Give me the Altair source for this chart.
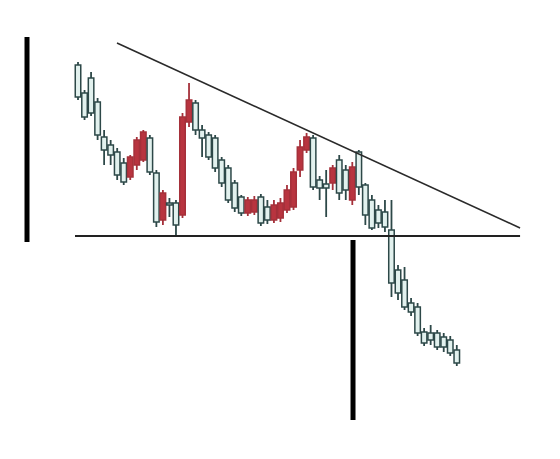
import altair as alt
import pandas as pd

# candle data (price units), in time order
direction = ["down"] * 8 + ["up"] * 3 + ["down"] * 2 + ["up"] + ["down"] * 2 + ["up"] * 2 + \
    ["down"] * 8 + ["up"] * 2 + ["down"] * 2 + ["up"] * 6 + ["down"] * 3 + ["up"] + ["down"] * 2 + \
    ["up"] + ["down"] * 16
open_ = [395, 367, 382, 358, 323, 315, 308, 297, 283, 295, 300, 322, 287, 240, 257, 257, 245, 338,
         357, 330, 325, 322, 300, 292, 277, 263, 247, 248, 263, 253, 240, 242, 250, 253, 290, 310,
         322, 280, 276, 277, 300, 290, 260, 308, 275, 260, 250, 248, 230, 190, 180, 157, 153, 128,
         127, 127, 123, 120, 110]
close = [363, 343, 347, 325, 310, 305, 285, 278, 303, 320, 328, 288, 238, 267, 255, 235, 343, 360,
         330, 322, 303, 292, 277, 260, 252, 247, 260, 260, 237, 240, 255, 257, 270, 288, 313, 323,
         273, 272, 272, 292, 267, 270, 293, 273, 245, 232, 237, 233, 177, 167, 153, 148, 127, 117,
         120, 113, 113, 107, 97]
high = [398, 370, 388, 362, 330, 320, 312, 302, 305, 323, 330, 325, 290, 270, 262, 260, 347, 377,
        360, 335, 328, 325, 303, 295, 280, 265, 263, 264, 266, 260, 260, 262, 275, 292, 320, 327,
        325, 284, 290, 295, 305, 295, 298, 310, 277, 265, 255, 260, 260, 195, 193, 162, 157, 132,
        135, 130, 127, 124, 115]
low = [360, 340, 344, 320, 295, 295, 280, 275, 280, 290, 298, 285, 233, 235, 243, 223, 242, 333,
       325, 303, 300, 288, 273, 257, 248, 244, 244, 245, 234, 236, 237, 238, 247, 250, 283, 307,
       270, 260, 243, 270, 260, 260, 255, 265, 235, 230, 232, 228, 163, 160, 150, 144, 124, 114,
       115, 110, 108, 104, 94]
day = list(range(len(open_)))

# pattern annotations (in day / price units)
trend_day = [5.97, 67.69]
trend_price = [417, 232]
support_day = [-0.46, 67.69]
support_price = 224
pattern_height_day = -7.81
pattern_height_price = [218, 423]
target_day = 42.11
target_price = [40, 220]

candles = pd.DataFrame({"day": day, "open": open_, "close": close, "high": high,
                        "low": low, "dir": direction})

xs = alt.Scale(domain=[-10.72, 72.58], nice=False, zero=False, padding=0)
ys = alt.Scale(domain=[12, 452], nice=False, zero=False, padding=0)
dir_dom = ["up", "down"]
fill_sc = alt.Scale(domain=dir_dom, range=["#b8343f", "#e2f1ee"])
stroke_sc = alt.Scale(domain=dir_dom, range=["#a5303a", "#2d4848"])

base = alt.Chart(candles)
wicks = base.mark_rule(strokeWidth=1.8).encode(
    x=alt.X("day:Q", scale=xs, axis=None),
    y=alt.Y("low:Q", scale=ys, axis=None),
    y2="high:Q",
    color=alt.Color("dir:N", scale=stroke_sc, legend=None),
)
bodies = base.mark_bar(size=5.5, strokeWidth=1.5).encode(
    x=alt.X("day:Q", scale=xs, axis=None),
    y=alt.Y("open:Q", scale=ys, axis=None),
    y2="close:Q",
    fill=alt.Fill("dir:N", scale=fill_sc, legend=None),
    stroke=alt.Stroke("dir:N", scale=stroke_sc, legend=None),
)

trend_df = pd.DataFrame({"x": [trend_day[0]], "x2": [trend_day[1]],
                         "y": [trend_price[0]], "y2": [trend_price[1]]})
trend = alt.Chart(trend_df).mark_rule(color="#2a2a2a", strokeWidth=1.6).encode(
    x=alt.X("x:Q", scale=xs, axis=None), x2="x2:Q",
    y=alt.Y("y:Q", scale=ys, axis=None), y2="y2:Q",
)

support_df = pd.DataFrame({"x": [support_day[0]], "x2": [support_day[1]], "y": [support_price]})
support = alt.Chart(support_df).mark_rule(color="#222222", strokeWidth=2).encode(
    x=alt.X("x:Q", scale=xs, axis=None), x2="x2:Q",
    y=alt.Y("y:Q", scale=ys, axis=None),
)

bars_df = pd.DataFrame({
    "x": [pattern_height_day, target_day],
    "y": [pattern_height_price[0], target_price[0]],
    "y2": [pattern_height_price[1], target_price[1]],
})
measures = alt.Chart(bars_df).mark_rule(color="#000000", strokeWidth=5).encode(
    x=alt.X("x:Q", scale=xs, axis=None),
    y=alt.Y("y:Q", scale=ys, axis=None), y2="y2:Q",
)

chart = alt.layer(wicks, bodies, support, trend, measures).properties(
    width=544, height=440, padding=0, autosize=alt.AutoSizeParams(type="none"),
    background="#ffffff",
).configure_view(stroke=None)

chart.save("out.html", embed_options={"renderer": "svg", "actions": False})
